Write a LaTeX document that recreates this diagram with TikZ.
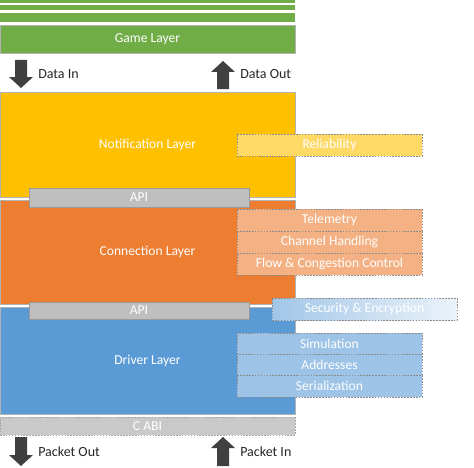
\documentclass[tikz,border=0pt]{standalone}
\usepackage{fontspec}
\setmainfont{Carlito}
\usetikzlibrary{fit}
\definecolor{cgreen}{HTML}{70AD47}
\definecolor{cyellow}{HTML}{FFC000}
\definecolor{corange}{HTML}{ED7D31}
\definecolor{cblue}{HTML}{5B9BD5}
\definecolor{cgray}{HTML}{BFBFBF}
\definecolor{lyellow}{HTML}{FFD966}
\definecolor{lorange}{HTML}{F4B183}
\definecolor{lblue}{HTML}{9DC3E6}
\definecolor{arrowc}{HTML}{404040}
\definecolor{txt}{HTML}{262626}
\tikzset{
  wtxt/.style={text=white, inner sep=0pt, font=\fontsize{10.2}{12}\selectfont},
  ctext/.style={label={[wtxt]center:#1}},
  layer/.style={inner sep=0pt, draw=black!30, line width=0.4pt},
  apibox/.style={inner sep=0pt, fill=cgray, draw=black!40, line width=0.4pt},
  feat/.style={inner sep=0pt, draw=black!45, line width=0.5pt, dash pattern=on 1.2pt off 1pt},
  lbl/.style={anchor=west, inner sep=0pt, text=txt, font=\fontsize{10.5}{12}\selectfont},
  blockarrow/.style={fill=arrowc}
}
\begin{document}
\begin{tikzpicture}[x=0.75pt,y=-0.75pt]
\useasboundingbox (0,0) rectangle (474,467);
% top stripes
\fill[cgreen] (0,0) rectangle (295,3);
\fill[cgreen] (0,5.5) rectangle (295,10.5);
\fill[cgreen] (0,13) rectangle (295,22);
\node[layer, fill=cgreen, fit={(0,25)(295,53)}, ctext={Game Layer}] (game) {};
% data arrows
\fill[blockarrow] (15,60) -- (27,60) -- (27,77) -- (33,77) -- (21,88) -- (9,77) -- (15,77) -- cycle;
\node[lbl] (din) at (38,74) {Data In};
\fill[blockarrow] (217,89) -- (229,89) -- (229,72) -- (235,72) -- (223,61) -- (211,72) -- (217,72) -- cycle;
\node[lbl] (dout) at (240,74) {Data Out};
% layers
\node[layer, fill=cyellow, fit={(0,92)(295,197)}, ctext={Notification Layer}] (notif) {};
\node[layer, fill=corange, fit={(0,200)(295,304)}, ctext={Connection Layer}] (conn) {};
\node[layer, fill=cblue, fit={(0,307)(295,414)}, ctext={Driver Layer}] (driver) {};
\node[apibox, fit={(29,188)(249,207)}, ctext={API}] (api1) {};
\node[apibox, fit={(29,302)(249,319)}, ctext={API}] (api2) {};
% feature boxes
\node[feat, fill=lyellow, fit={(237,134)(422,156)}, ctext={Reliability}] (rel) {};
\node[feat, fill=lorange, fit={(237,209)(422,231)}, ctext={Telemetry}] (tel) {};
\node[feat, fill=lorange, fit={(237,231)(422,253)}, ctext={Channel Handling}] (chan) {};
\node[feat, fill=lorange, fit={(237,253)(422,275)}, ctext={Flow \& Congestion Control}] (flow) {};
\node[feat, left color=lblue!95, right color=lblue!20, fit={(272,298)(457,320)}, ctext={Security \& Encryption}] (sec) {};
\node[feat, fill=lblue, fit={(237,333)(422,354)}, ctext={Simulation}] (sim) {};
\node[feat, fill=lblue, fit={(237,354)(422,375)}, ctext={Addresses}] (addr) {};
\node[feat, fill=lblue, fit={(237,375)(422,397)}, ctext={Serialization}] (ser) {};
% C ABI
\node[feat, fill=cgray!85, draw=black!35, fit={(0,417)(295,435)}, ctext={C ABI}] (cabi) {};
% packet arrows
\fill[blockarrow] (15,437) -- (27,437) -- (27,455) -- (33,455) -- (21,466) -- (9,455) -- (15,455) -- cycle;
\node[lbl] (pout) at (38,452) {Packet Out};
\fill[blockarrow] (217,466) -- (229,466) -- (229,448) -- (235,448) -- (223,437) -- (211,448) -- (217,448) -- cycle;
\node[lbl] (pin) at (240,452) {Packet In};
\end{tikzpicture}
\end{document}
